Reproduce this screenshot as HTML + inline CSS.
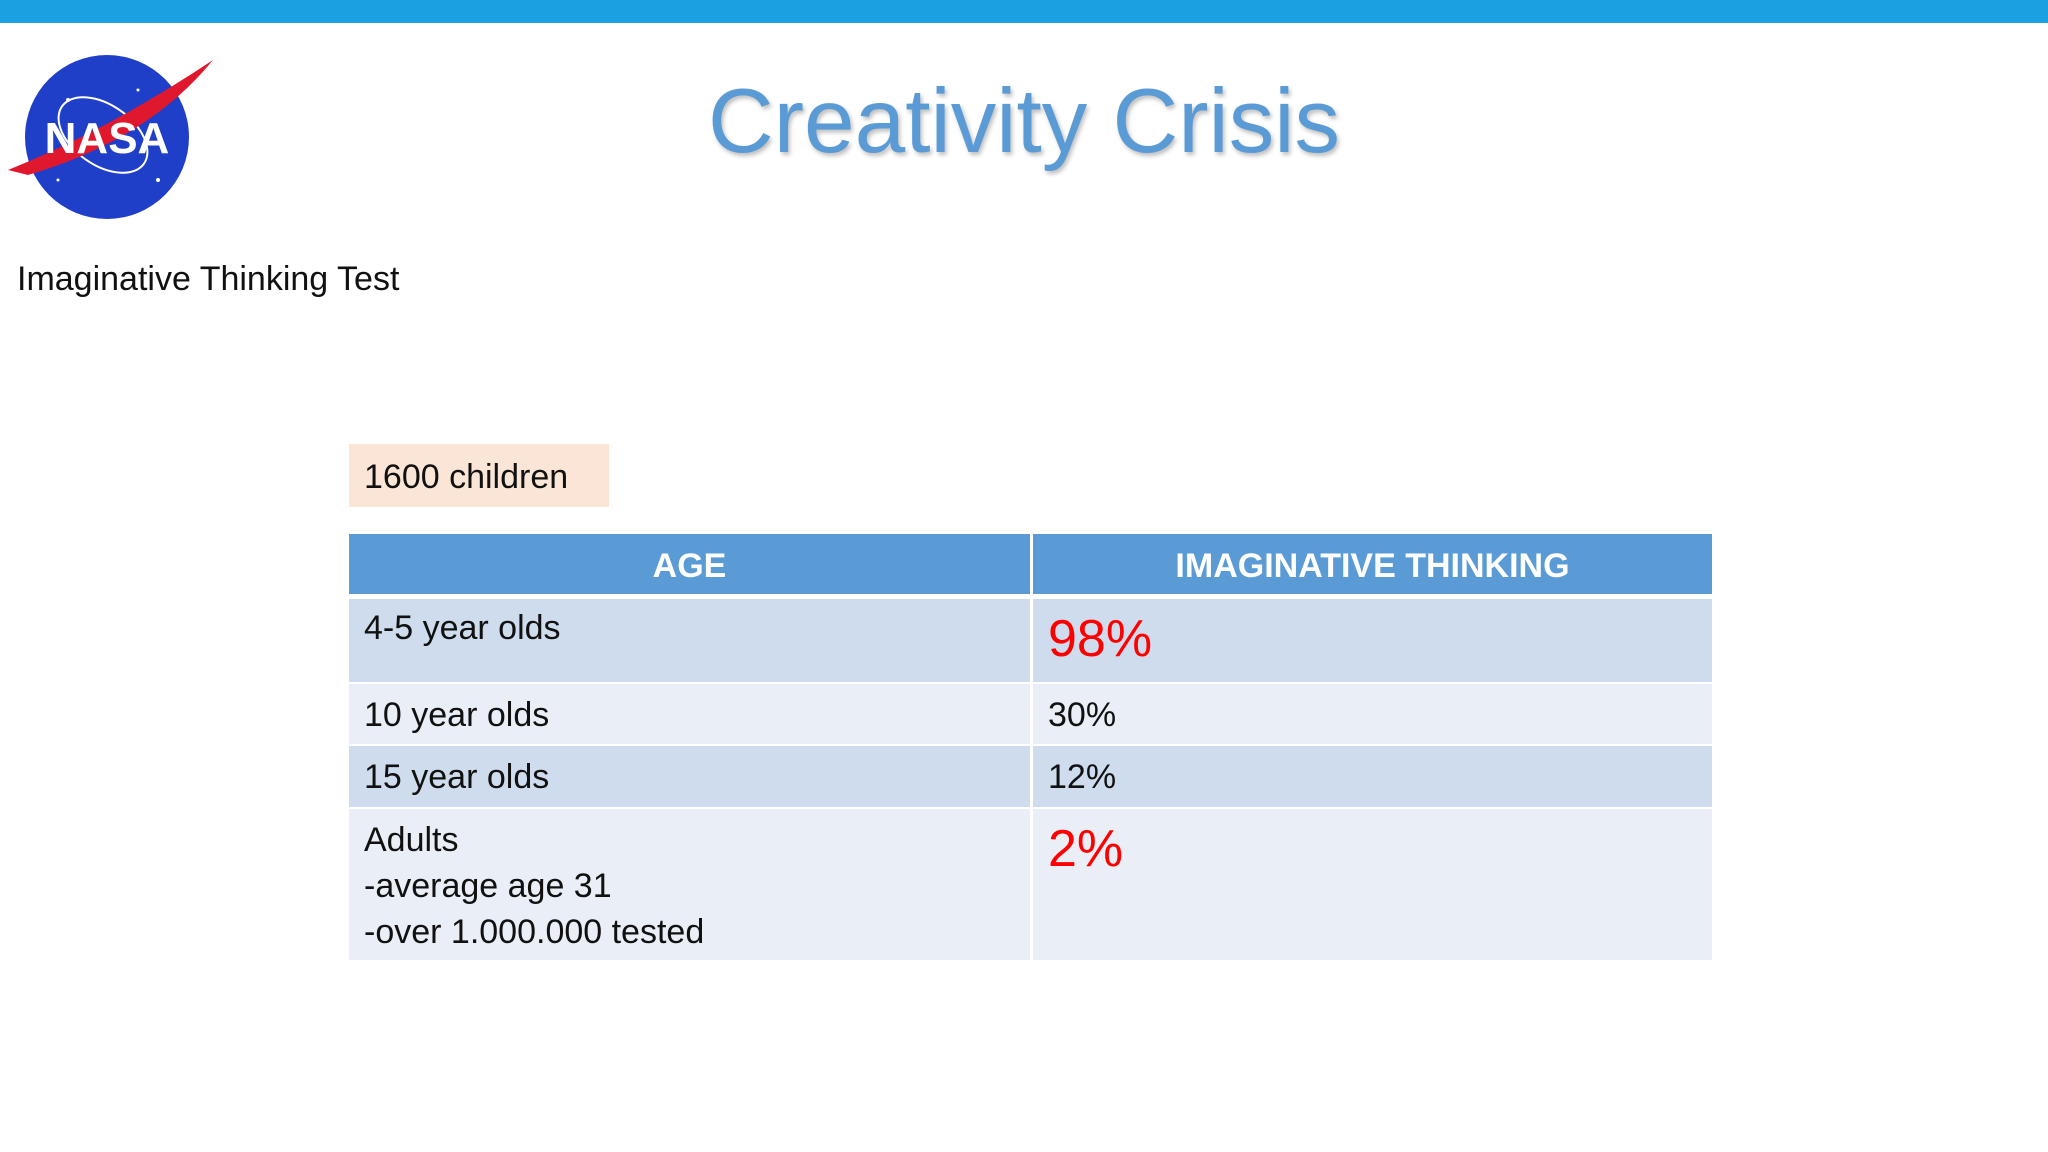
<!DOCTYPE html>
<html><head><meta charset="utf-8"><style>
html,body{margin:0;padding:0;width:2048px;height:1152px;background:#fff;overflow:hidden;font-family:"Liberation Sans",sans-serif;}
.abs{position:absolute;}
.cell{position:absolute;box-sizing:border-box;padding-left:15px;font-size:34px;color:#111;}
.red{color:#f00;font-size:52px;}
</style></head><body>
<div class="abs" style="left:0;top:0;width:2048px;height:23px;background:#1ba1e2;"></div>
<svg class="abs" style="left:8px;top:50px" width="220" height="180" viewBox="0 0 220 180">
<circle cx="99" cy="87" r="82" fill="#1f3fc9"/>
<circle cx="60" cy="50" r="2" fill="#fff"/><circle cx="130" cy="40" r="1.5" fill="#fff"/><circle cx="150" cy="130" r="2" fill="#fff"/><circle cx="50" cy="130" r="1.5" fill="#fff"/>
<ellipse cx="95" cy="85" rx="50" ry="30" fill="none" stroke="#fff" stroke-width="2" transform="rotate(35 95 85)"/>
<path d="M0 120 Q100 80 205 10 Q140 90 20 125 Z" fill="#e0182d"/>
<text x="99" y="103" text-anchor="middle" font-family="Liberation Sans" font-weight="bold" font-size="44" fill="#fff">NASA</text>
</svg>
<div class="abs" style="left:0;width:2048px;top:70px;text-align:center;font-family:'Liberation Sans';font-size:91px;color:#5b9bd5;text-shadow:2px 3px 4px rgba(0,0,0,0.25);">Creativity Crisis</div>
<div class="abs" style="left:17px;top:260px;font-size:34px;color:#111;">Imaginative Thinking Test</div>
<div class="abs" style="left:349px;top:444px;width:260px;height:63px;background:#fbe5d6;box-sizing:border-box;padding:14px 15px;font-size:34px;color:#111;">1600 children</div>
<div>
<div class="cell" style="left:349px;top:534px;width:681px;height:60px;background:#5b9bd5;color:#fff;font-weight:bold;text-align:center;padding:13px 0 0;">AGE</div>
<div class="cell" style="left:1033px;top:534px;width:679px;height:60px;background:#5b9bd5;color:#fff;font-weight:bold;text-align:center;padding:13px 0 0;">IMAGINATIVE THINKING</div>
<div class="abs" style="left:349px;top:594px;width:1363px;height:5px;background:#fff;"></div>
<div class="cell" style="left:349px;top:599px;width:681px;height:83px;background:#cfdcee;padding-top:10px;">4-5 year olds</div>
<div class="cell" style="left:1033px;top:599px;width:679px;height:83px;background:#cfdcee;padding-top:10px;"><span class="red">98%</span></div>
<div class="cell" style="left:349px;top:684px;width:681px;height:60px;background:#e9eef7;padding-top:12px;">10 year olds</div>
<div class="cell" style="left:1033px;top:684px;width:679px;height:60px;background:#e9eef7;padding-top:12px;">30%</div>
<div class="cell" style="left:349px;top:746px;width:681px;height:61px;background:#cfdcee;padding-top:12px;">15 year olds</div>
<div class="cell" style="left:1033px;top:746px;width:679px;height:61px;background:#cfdcee;padding-top:12px;">12%</div>
<div class="cell" style="left:349px;top:809px;width:681px;height:151px;background:#e9eef7;padding-top:8px;line-height:46px;">Adults<br>-average age 31<br>-over 1.000.000 tested</div>
<div class="cell" style="left:1033px;top:809px;width:679px;height:151px;background:#e9eef7;padding-top:10px;"><span class="red">2%</span></div>
</div>
</body></html>
